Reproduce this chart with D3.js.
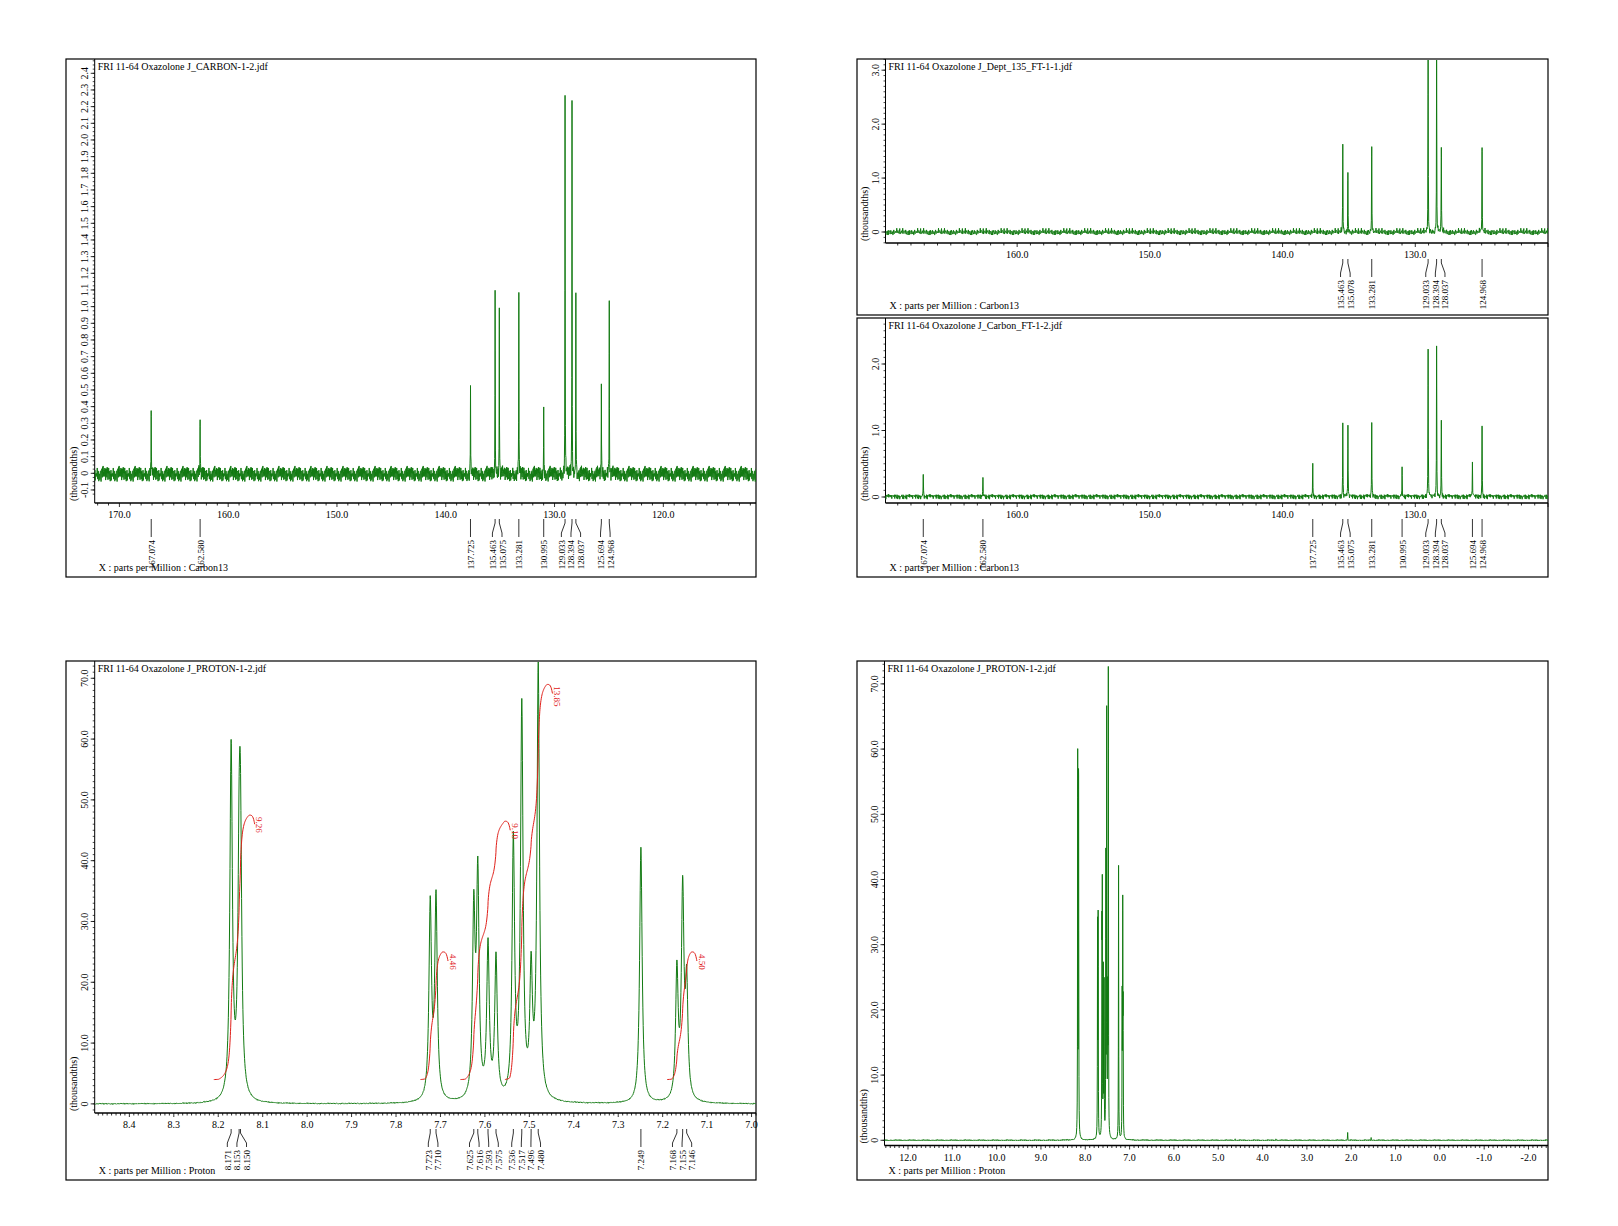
<!DOCTYPE html>
<html>
<head>
<meta charset="utf-8">
<script src="https://cdn.jsdelivr.net/npm/d3@7"></script>
<style>
  body { margin: 0; background: #fff; }
  text { font-family: "Liberation Serif", "DejaVu Serif", serif; fill: #000; }
</style>
</head>
<body>
<script>
// peak lists (ppm, height in thousandths)
var carbonPpm = [167.074, 162.580, 137.725, 135.463, 135.075, 133.281, 130.995, 129.033, 128.394, 128.037, 125.694, 124.968];
var carbonHeight = [0.36, 0.34, 0.50, 1.14, 1.03, 1.10, 0.41, 2.27, 2.27, 1.11, 0.50, 1.04];
var carbonFtHeight = [0.33, 0.30, 0.49, 1.10, 1.06, 1.10, 0.42, 2.22, 2.26, 1.12, 0.50, 1.06];
var deptPpm = [135.463, 135.078, 133.281, 129.033, 128.394, 128.037, 124.968];
var deptHeight = [1.62, 1.10, 1.58, 3.40, 3.20, 1.58, 1.50];

var protonPpm = [8.171, 8.153, 8.150, 7.723, 7.710, 7.625, 7.616, 7.593, 7.575, 7.536, 7.517, 7.496, 7.480, 7.249, 7.168, 7.155, 7.146, 2.08, 1.55, 4.62, 3.70];
var protonHeight = [58, 31, 37, 32, 33, 30, 36, 25, 23, 42, 64, 20, 71, 42, 21, 34, 18, 1.2, 0.4, 0.2, 0.2];
var protonLabels = [8.171, 8.153, 8.150, 7.723, 7.710, 7.625, 7.616, 7.593, 7.575, 7.536, 7.517, 7.496, 7.480, 7.249, 7.168, 7.155, 7.146];

// integrals: from ppm, to ppm, start level, end level, value
var intFrom = [8.20, 7.735, 7.645, 7.545, 7.180];
var intTo = [8.13, 7.695, 7.555, 7.460, 7.135];
var intStart = [4, 4, 4, 4, 4];
var intEnd = [47.5, 25, 46.5, 69, 25];
var intValue = ["9.26", "4.46", "9.10", "13.85", "4.50"];

// baseline noise sequence (cycled)
var noise = [0.3, -0.5, 0.8, -0.2, -0.9, 0.4, 0.1, -0.6, 0.9, -0.3, 0.5, -0.8, 0.2, 0.7, -0.4, -0.1, 0.6, -0.7, 0.3, -0.9,
  0.8, -0.2, 0.1, 0.5, -0.6, 0.4, -0.3, 0.9, -0.8, 0.2, -0.5, 0.7, 0.0, -0.4, 0.6, -0.9, 0.3, 0.8, -0.1, -0.7,
  0.5, -0.2, 0.9, -0.6, 0.1, 0.4, -0.8, 0.7, -0.3, 0.2, -0.5, 0.6, -0.9, 0.3, 0.1, -0.4, 0.8, -0.7, 0.5, -0.1, 1.4, -1.2, 0.2];

var W = 1618, H = 1226, green = "#127a12";
var svg = d3.select("body").append("svg").attr("width", W).attr("height", H);

function spectrum(domain, n, centers, heights, hw, amp, seed) {
  var xs = d3.range(n).map(function(i) { return domain[0] + (domain[1] - domain[0]) * i / (n - 1); });
  xs = xs.concat(centers).sort(function(a, b) { return b - a; });
  return xs.map(function(x, i) {
    var y = 0;
    centers.forEach(function(c, k) { var d = (x - c) / hw; y += heights[k] / (1 + d * d); });
    var j = (i * 7 + seed) % noise.length, j2 = (i * 13 + seed * 3) % noise.length;
    y += amp * (0.6 * noise[j] + 0.4 * noise[j2]);
    return [x, y];
  });
}

function panel(o) {
  var g = svg.append("g");
  g.append("rect").attr("x", o.box[0]).attr("y", o.box[1]).attr("width", o.box[2] - o.box[0])
    .attr("height", o.box[3] - o.box[1]).attr("fill", "none").attr("stroke", "#000").attr("stroke-width", 1.2);
  var x = d3.scaleLinear().domain(o.xd).range([o.ax, o.box[2]]);
  var y = d3.scaleLinear().domain(o.yd).range([o.y0, o.yTop]);
  var clip = "c" + Math.round(o.box[1]) + "_" + Math.round(o.box[0]);
  g.append("clipPath").attr("id", clip).append("rect").attr("x", o.ax).attr("y", o.box[1] + 1)
    .attr("width", o.box[2] - o.ax).attr("height", o.axY - o.box[1] - 1);

  // x axis
  g.append("line").attr("x1", o.ax).attr("x2", o.box[2]).attr("y1", o.axY).attr("y2", o.axY).attr("stroke", "#000").attr("stroke-width", 1.5);
  var lo = Math.min(o.xd[0], o.xd[1]), hi = Math.max(o.xd[0], o.xd[1]);
  d3.range(Math.ceil(lo / o.minor), Math.floor(hi / o.minor) + 1).forEach(function(k) {
    var v = k * o.minor, major = Math.abs(v / o.major - Math.round(v / o.major)) < 1e-6;
    g.append("line").attr("x1", x(v)).attr("x2", x(v)).attr("y1", o.axY).attr("y2", o.axY + (major ? 4 : 2.5)).attr("stroke", "#000").attr("stroke-width", 0.8);
  });
  d3.range(Math.ceil(lo / o.major), Math.floor(hi / o.major) + 1).forEach(function(k) {
    var v = k * o.major;
    if (x(v) > o.box[2] - 4) return;
    g.append("text").attr("x", x(v)).attr("y", o.axY + 15).attr("text-anchor", "middle").attr("font-size", 10).text(v.toFixed(1));
  });

  // y axis
  g.append("line").attr("x1", o.ax).attr("x2", o.ax).attr("y1", o.box[1]).attr("y2", o.axY).attr("stroke", "#000").attr("stroke-width", 1);
  d3.range(Math.ceil(o.yd[0] / o.yminor), Math.floor(y.invert(o.box[1]) / o.yminor) + 1).forEach(function(k) {
    var v = k * o.yminor;
    g.append("line").attr("x1", o.ax).attr("x2", o.ax - 2).attr("y1", y(v)).attr("y2", y(v)).attr("stroke", "#000").attr("stroke-width", 0.7);
  });
  o.yTicks.forEach(function(v) {
    g.append("line").attr("x1", o.ax).attr("x2", o.ax - 4).attr("y1", y(v)).attr("y2", y(v)).attr("stroke", "#000").attr("stroke-width", 0.8);
    g.append("text").attr("transform", "translate(" + (o.ax - 7) + "," + y(v) + ") rotate(-90)")
      .attr("text-anchor", "middle").attr("font-size", 10).text(v === 0 ? "0" : v.toFixed(o.yDec));
  });
  g.append("text").attr("transform", "translate(" + (o.ax - 18) + "," + (o.axY - 2) + ") rotate(-90)")
    .attr("font-size", 10).text("(thousandths)");

  // spectrum
  var data = spectrum(o.xd, o.n, o.peaks, o.heights, o.hw, o.noise, o.seed);
  g.append("path").datum(data).attr("clip-path", "url(#" + clip + ")")
    .attr("d", d3.line().x(function(d) { return x(d[0]); }).y(function(d) { return y(d[1]); }))
    .attr("fill", "none").attr("stroke", green).attr("stroke-width", 1);

  // integrals
  if (o.integrals) {
    intFrom.forEach(function(f, k) {
      var pts = data.filter(function(d) { return d[0] <= f && d[0] >= intTo[k]; });
      var cum = [], s = 0;
      pts.forEach(function(d) { s += Math.max(d[1], 0); cum.push([d[0], s]); });
      var sc = d3.scaleLinear().domain([0, s]).range([intStart[k], intEnd[k]]);
      var line = [[f + 0.01, intStart[k]]].concat(cum.map(function(d) { return [d[0], sc(d[1])]; }));
      line.push([intTo[k] - 0.008, intEnd[k]]);
      line.push([intTo[k] - 0.012, intEnd[k] - 1.5]);
      g.append("path").datum(line).attr("d", d3.line().curve(d3.curveBasis).x(function(d) { return x(d[0]); }).y(function(d) { return y(d[1]); }))
        .attr("fill", "none").attr("stroke", "#e0201a").attr("stroke-width", 1);
      g.append("text").attr("transform", "translate(" + (x(intTo[k]) + 7) + "," + (y(intEnd[k]) + 2) + ") rotate(90)")
        .attr("font-size", 9).style("fill", "#e0201a").text(intValue[k]);
    });
  }

  // peak labels
  if (o.labels) {
    var pos = o.labels.map(function(v) { return x(v); }), gap = 9.6;
    for (var it = 0; it < 200; it++) {
      for (var i = 1; i < pos.length; i++) {
        if (pos[i] - pos[i - 1] < gap) { var m = (pos[i] - pos[i - 1] - gap) / 2; pos[i - 1] += m; pos[i] -= m; }
      }
    }
    o.labels.forEach(function(v, i) {
      var t = o.axY + 16;
      g.append("path").attr("d", "M" + x(v) + "," + t + "L" + x(v) + "," + (t + 4) + "L" + pos[i] + "," + (t + 14) + "L" + pos[i] + "," + (t + 18))
        .attr("fill", "none").attr("stroke", "#000").attr("stroke-width", 0.8);
      g.append("text").attr("transform", "translate(" + (pos[i] + 3.5) + "," + (t + 21) + ") rotate(-90)")
        .attr("text-anchor", "end").attr("font-size", 9).text(v.toFixed(3));
    });
  }
  g.append("text").attr("x", o.ax + 3).attr("y", o.box[1] + 11).attr("font-size", 10).text(o.title);
  g.append("text").attr("x", o.ax + 4).attr("y", o.box[3] - 6).attr("font-size", 10).text(o.xlabel);
}

panel({ box: [66, 59, 756, 577], ax: 94.7, axY: 503, xd: [172.27, 111.48], yd: [-0.15, 2.4], y0: 498.3, yTop: 73.3,
  minor: 1, major: 10, yminor: 0.025, yTicks: d3.range(-1, 25).map(function(k) { return k / 10; }), yDec: 1,
  n: 2600, peaks: carbonPpm, heights: carbonHeight, hw: 0.012, noise: 0.055, seed: 3,
  labels: carbonPpm, title: "FRI 11-64 Oxazolone J_CARBON-1-2.jdf", xlabel: "X : parts per Million : Carbon13" });

panel({ box: [857, 59, 1548, 315], ax: 885.5, axY: 243, xd: [169.92, 120.0], yd: [-0.2, 3.3], y0: 242.8, yTop: 54,
  minor: 1, major: 10, yminor: 0.1, yTicks: [0, 1, 2, 3], yDec: 1,
  n: 2000, peaks: deptPpm, heights: deptHeight, hw: 0.012, noise: 0.065, seed: 11,
  labels: deptPpm, title: "FRI 11-64 Oxazolone J_Dept_135_FT-1-1.jdf", xlabel: "X : parts per Million : Carbon13" });

panel({ box: [857, 318, 1548, 577], ax: 885.5, axY: 503, xd: [169.92, 120.0], yd: [-0.09, 2.6], y0: 503, yTop: 503 - 2.69 * 66.5,
  minor: 1, major: 10, yminor: 0.1, yTicks: [0, 1, 2], yDec: 1,
  n: 2000, peaks: carbonPpm, heights: carbonFtHeight, hw: 0.012, noise: 0.05, seed: 23,
  labels: carbonPpm, title: "FRI 11-64 Oxazolone J_Carbon_FT-1-2.jdf", xlabel: "X : parts per Million : Carbon13" });

panel({ box: [66, 661, 756, 1180], ax: 94.7, axY: 1113, xd: [8.478, 6.99], yd: [-1.5, 71], y0: 1113, yTop: 1113 - 72.5 * 6.08,
  minor: 0.01, major: 0.1, yminor: 1, yTicks: [0, 10, 20, 30, 40, 50, 60, 70], yDec: 1,
  n: 2000, peaks: protonPpm, heights: protonHeight, hw: 0.0034, noise: 0.12, seed: 5, integrals: true,
  labels: protonLabels, title: "FRI 11-64 Oxazolone J_PROTON-1-2.jdf", xlabel: "X : parts per Million : Proton" });

panel({ box: [857, 661, 1548, 1180], ax: 884.5, axY: 1145.5, xd: [12.53, -2.44], yd: [-0.8, 75], y0: 1145.5, yTop: 1145.5 - 75.8 * 6.52,
  minor: 0.1, major: 1, yminor: 1, yTicks: [0, 10, 20, 30, 40, 50, 60, 70], yDec: 1,
  n: 3000, peaks: protonPpm, heights: protonHeight, hw: 0.0034, noise: 0.1, seed: 9,
  title: "FRI 11-64 Oxazolone J_PROTON-1-2.jdf", xlabel: "X : parts per Million : Proton" });
</script>
</body>
</html>
